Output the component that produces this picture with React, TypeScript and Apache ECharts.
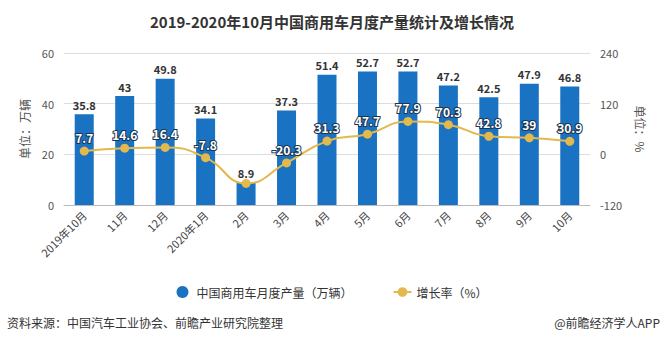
import React, { useEffect, useRef } from "react";
import * as echarts from "echarts";

// Monthly commercial-vehicle output (10k units) and year-on-year growth (%)
const categories = [
  "2019年10月", "11月", "12月", "2020年1月", "2月", "3月", "4月",
  "5月", "6月", "7月", "8月", "9月", "10月",
];
const output = [35.8, 43, 49.8, 34.1, 8.9, 37.3, 51.4, 52.7, 52.7, 47.2, 42.5, 47.9, 46.8];
const growth = [7.7, 14.6, 16.4, -7.8, -69, -20.3, 31.3, 47.7, 77.9, 70.3, 42.8, 39, 30.9];
// February's growth point carries no label
const growthLabelHidden = [4];

const leftTicks = { min: 0, max: 60, interval: 20 };
const rightTicks = { min: -120, max: 240, interval: 120 };

const FONT = '"Noto Sans CJK SC", "Noto Sans", sans-serif';

export default function App() {
  const ref = useRef<HTMLDivElement>(null);

  useEffect(() => {
    if (!ref.current) return;
    const chart = echarts.init(ref.current, undefined, { renderer: "svg" });
    chart.setOption({
      animation: false,
      textStyle: { fontFamily: FONT },
      title: {
        text: "2019-2020年10月中国商用车月度产量统计及增长情况",
        left: "center",
        top: 9,
        textStyle: { fontSize: 15, fontWeight: "bold", color: "#333", fontFamily: FONT },
      },
      grid: { left: 64, right: 74, top: 53, bottom: 140 },
      legend: {
        bottom: 42,
        left: "center",
        itemGap: 40,
        itemWidth: 18,
        itemHeight: 12,
        textStyle: { fontSize: 12, color: "#333", fontFamily: FONT },
        data: [
          { name: "中国商用车月度产量（万辆）", icon: "circle" },
          { name: "增长率（%）" },
        ],
      },
      xAxis: {
        type: "category",
        data: categories,
        axisLine: { lineStyle: { color: "#bbb" } },
        axisTick: { alignWithLabel: true, length: 5, lineStyle: { color: "#bbb" } },
        axisLabel: { rotate: 45, fontSize: 11, color: "#444", interval: 0, margin: 8 },
      },
      yAxis: [
        {
          type: "value",
          ...leftTicks,
          name: "单位：万辆",
          nameLocation: "middle",
          nameGap: 30,
          nameTextStyle: { fontSize: 12, color: "#555" },
          axisLine: { show: false },
          axisTick: { show: false },
          axisLabel: { fontSize: 11, color: "#555", margin: 10 },
          splitLine: { lineStyle: { color: "#ddd" } },
        },
        {
          type: "value",
          ...rightTicks,
          name: "单位：%",
          nameLocation: "middle",
          nameRotate: -90,
          nameGap: 44,
          nameTextStyle: { fontSize: 12, color: "#555" },
          axisLine: { show: false },
          axisTick: { show: false },
          axisLabel: { fontSize: 11, color: "#555", margin: 10 },
          splitLine: { show: false },
        },
      ],
      series: [
        {
          name: "中国商用车月度产量（万辆）",
          type: "bar",
          data: output,
          barWidth: 19,
          itemStyle: { color: "#1a72c2" },
          label: {
            show: true,
            position: "top",
            distance: 4,
            fontSize: 11,
            fontWeight: "bold",
            color: "#333",
          },
        },
        {
          name: "增长率（%）",
          type: "line",
          yAxisIndex: 1,
          smooth: true,
          data: growth.map((v, i) =>
            growthLabelHidden.includes(i) ? { value: v, label: { show: false } } : v
          ),
          symbol: "circle",
          symbolSize: 9,
          lineStyle: { color: "#e3b84c", width: 2 },
          itemStyle: { color: "#e3b84c" },
          label: {
            show: true,
            position: "top",
            distance: 3,
            fontSize: 12,
            fontWeight: "bold",
            color: "#fff",
            textBorderColor: "#1d3550",
            textBorderWidth: 2,
          },
        },
      ],
      graphic: [
        {
          type: "text",
          left: 7,
          top: 316,
          style: {
            text: "资料来源：中国汽车工业协会、前瞻产业研究院整理",
            fontSize: 12,
            fill: "#333",
            fontFamily: FONT,
          },
        },
        {
          type: "text",
          right: 4,
          top: 316,
          style: {
            text: "@前瞻经济学人APP",
            fontSize: 12,
            fill: "#333",
            fontFamily: FONT,
          },
        },
      ],
    });
    return () => chart.dispose();
  }, []);

  return (
    <div
      ref={ref}
      style={{ position: "fixed", left: 0, top: 0, width: 664, height: 345, background: "#fff" }}
    />
  );
}
